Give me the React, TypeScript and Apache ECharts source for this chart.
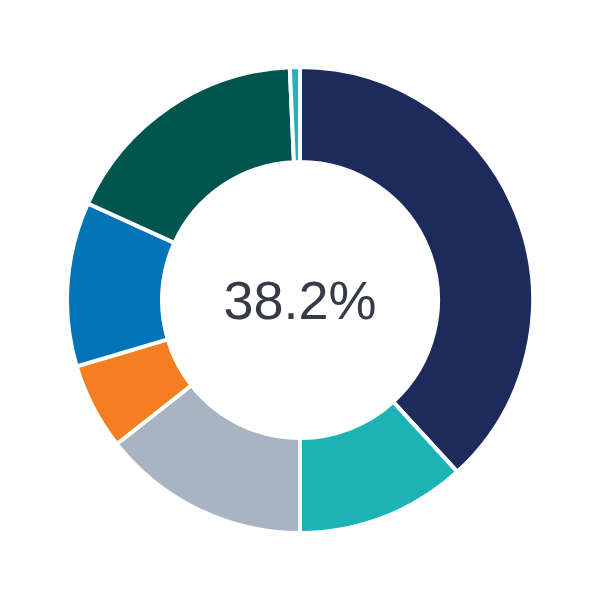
import React, { useEffect, useRef } from "react";
import * as echarts from "echarts";

const categories = ["A", "B", "C", "D", "E", "F", "G"];
const values = [38.2, 11.8, 14.4, 6.0, 11.4, 17.5, 0.7];
const colors = ["#1c2b5b", "#1bb3b6", "#a9b4c2", "#f37f21", "#0074b4", "#00554f", "#27b2bb"];
const centerLabel = "38.2%";

export default function App() {
  const ref = useRef<HTMLDivElement>(null);
  useEffect(() => {
    if (!ref.current) return;
    const chart = echarts.init(ref.current, undefined, { renderer: "svg" });
    chart.setOption({
      animation: false,
      backgroundColor: "#ffffff",
      graphic: [
        {
          type: "text",
          x: 300,
          y: 300,
          style: {
            text: centerLabel,
            fontSize: 54,
            fontFamily: "'Liberation Sans', Arial, sans-serif",
            fill: "#363b47",
            align: "center",
            verticalAlign: "middle",
          },
        },
      ],
      series: [
        {
          type: "pie",
          center: [300, 300],
          radius: [138, 233],
          startAngle: 90,
          clockwise: true,
          label: { show: false },
          labelLine: { show: false },
          emphasis: { disabled: true },
          itemStyle: { borderColor: "#ffffff", borderWidth: 4 },
          data: categories.map((c, i) => ({
            name: c,
            value: values[i],
            itemStyle: { color: colors[i] },
          })),
        },
      ],
    });
    return () => chart.dispose();
  }, []);
  return (
    <div
      ref={ref}
      style={{ position: "fixed", left: 0, top: 0, width: 600, height: 600 }}
    />
  );
}
